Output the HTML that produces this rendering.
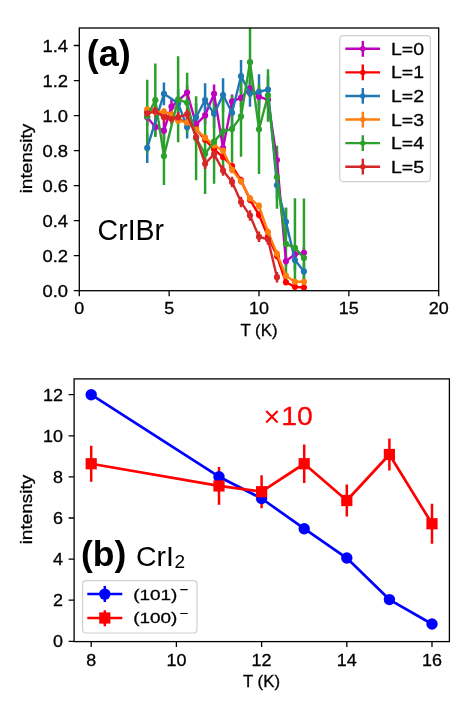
<!DOCTYPE html><html><head><meta charset="utf-8"><style>html,body{margin:0;padding:0;background:#fff;}svg{display:block;will-change:transform;}text{font-family:"Liberation Sans",sans-serif;stroke:#000;stroke-width:0.3px;}text.nb{stroke:none;}</style></head><body>
<svg width="469" height="720" viewBox="0 0 469 720">
<rect width="469" height="720" fill="#fff"/>
<defs><clipPath id="ca"><rect x="79.3" y="28" width="359.4" height="262.7"/></clipPath>
<clipPath id="cb"><rect x="74.1" y="378.9" width="375.3" height="262.7"/></clipPath></defs>
<g clip-path="url(#ca)">
<path d="M147.23 108.56V126.07M155.31 118.19V135.71M163.94 121.87V139.38M171.49 97.88V115.39M187.12 85.62V99.63M196.1 115.57V133.08M205.09 106.63V124.15M214.07 84.39V103.31M223.06 139.21V156.72M232.04 94.38V108.39M241.03 89.12V106.63M250.01 79.49V97M259 87.9V105.41M267.99 91.05V108.56M276.97 151.29V168.81M285.95 256.02V266.53M294.94 249.02V259.53M303.93 247.62V258.13" stroke="#bf00bf" stroke-width="2.5" fill="none"/>
<path d="M147.23 108.56V115.57M155.31 106.81V113.82M163.94 112.06V119.07M171.49 113.82V120.82M178.13 115.57V122.57M187.12 119.07V126.07M196.1 125.37V132.38M205.09 136.23V143.24M214.07 145.86V152.87M223.06 153.57V160.58M232.04 162.5V169.51M241.03 176.86V183.87M250.01 196.13V203.13M259 211.36V218.37M267.99 233.08V240.09M276.97 252.52V259.53M285.95 280.54V284.04M294.94 285.1V288.6M303.93 285.8V289.3" stroke="#ff0000" stroke-width="2.5" fill="none"/>
<path d="M147.23 132.9V163.03M163.94 82.47V105.23M178.13 89.3V117.32M187.12 115.74V138.51M196.1 103.31V131.33M205.09 83.34V116.62M214.07 99.8V127.83M223.06 78.26V111.89M232.04 98.75V126.78M241.03 60.05V92.27M250.01 79.84V106.81M259 74.24V109.26M267.99 75.64V103.66M276.97 171.26V199.28M285.95 207.86V235.88M294.94 249.54V270.56M303.93 262.68V280.19" stroke="#1f77b4" stroke-width="2.5" fill="none"/>
<path d="M147.23 105.76V112.76M155.31 108.56V115.57M163.94 108.21V115.22M171.49 110.84V117.84M178.13 117.14V124.15M187.12 118.89V125.9M196.1 126.07V133.08M205.09 134.13V141.14M214.07 141.84V148.84M223.06 147.09V154.1M232.04 166.36V173.36M241.03 177.74V184.74M250.01 194.9V201.91M259 202.43V209.44M267.99 228.53V235.53M276.97 250.24V257.25M285.95 272.31V279.32M294.94 278.27V285.27M303.93 278.27V285.27" stroke="#ff7f0e" stroke-width="2.5" fill="none"/>
<path d="M147.23 79.66V153.22M155.31 63.38V136.93M163.94 127.13V184.92M178.13 56.37V142.19M187.12 72.83V132.73M196.1 96.3V180.37M205.09 113.47V194.03M214.07 99.63V183.69M223.06 92.8V169.86M232.04 95.6V162.15M241.03 76.16V156.72M250.01 27.12V97.18M259 84.39V174.06M267.99 69.16V121.7M276.97 145.69V208.74M285.95 207.86V280.02M294.94 198.23V297.36M303.93 198.4V317.5" stroke="#2ca02c" stroke-width="2.5" fill="none"/>
<path d="M147.23 108.21V118.72M155.31 106.11V116.62M163.94 112.06V122.57M171.49 113.82V124.32M178.13 112.06V122.57M187.12 108.91V119.42M196.1 131.85V142.36M205.09 158.47V168.98M214.07 148.84V159.35M223.06 165.3V175.81M232.04 176.69V187.2M241.03 196.83V207.34M250.01 210.31V220.82M259 231.5V242.01M267.99 234.13V244.64M276.97 271.96V282.47" stroke="#d62728" stroke-width="2.5" fill="none"/>
<polyline points="147.23,117.32 155.31,126.95 163.94,130.63 171.49,106.63 187.12,92.62 196.1,124.32 205.09,115.39 214.07,93.85 223.06,147.97 232.04,101.38 241.03,97.88 250.01,88.25 259,96.65 267.99,99.8 276.97,160.05 285.95,261.28 294.94,254.27 303.93,252.87" stroke="#bf00bf" stroke-width="2.4" fill="none" stroke-linejoin="round" stroke-linecap="butt"/>
<circle cx="147.23" cy="117.32" r="3.1" fill="#bf00bf"/>
<circle cx="155.31" cy="126.95" r="3.1" fill="#bf00bf"/>
<circle cx="163.94" cy="130.63" r="3.1" fill="#bf00bf"/>
<circle cx="171.49" cy="106.63" r="3.1" fill="#bf00bf"/>
<circle cx="187.12" cy="92.62" r="3.1" fill="#bf00bf"/>
<circle cx="196.1" cy="124.32" r="3.1" fill="#bf00bf"/>
<circle cx="205.09" cy="115.39" r="3.1" fill="#bf00bf"/>
<circle cx="214.07" cy="93.85" r="3.1" fill="#bf00bf"/>
<circle cx="223.06" cy="147.97" r="3.1" fill="#bf00bf"/>
<circle cx="232.04" cy="101.38" r="3.1" fill="#bf00bf"/>
<circle cx="241.03" cy="97.88" r="3.1" fill="#bf00bf"/>
<circle cx="250.01" cy="88.25" r="3.1" fill="#bf00bf"/>
<circle cx="259" cy="96.65" r="3.1" fill="#bf00bf"/>
<circle cx="267.99" cy="99.8" r="3.1" fill="#bf00bf"/>
<circle cx="276.97" cy="160.05" r="3.1" fill="#bf00bf"/>
<circle cx="285.95" cy="261.28" r="3.1" fill="#bf00bf"/>
<circle cx="294.94" cy="254.27" r="3.1" fill="#bf00bf"/>
<circle cx="303.93" cy="252.87" r="3.1" fill="#bf00bf"/>
<polyline points="147.23,112.06 155.31,110.31 163.94,115.57 171.49,117.32 178.13,119.07 187.12,122.57 196.1,128.88 205.09,139.74 214.07,149.37 223.06,157.07 232.04,166.01 241.03,180.37 250.01,199.63 259,214.87 267.99,236.58 276.97,256.02 285.95,282.29 294.94,286.85 303.93,287.55" stroke="#ff0000" stroke-width="2.4" fill="none" stroke-linejoin="round" stroke-linecap="butt"/>
<circle cx="147.23" cy="112.06" r="3.1" fill="#ff0000"/>
<circle cx="155.31" cy="110.31" r="3.1" fill="#ff0000"/>
<circle cx="163.94" cy="115.57" r="3.1" fill="#ff0000"/>
<circle cx="171.49" cy="117.32" r="3.1" fill="#ff0000"/>
<circle cx="178.13" cy="119.07" r="3.1" fill="#ff0000"/>
<circle cx="187.12" cy="122.57" r="3.1" fill="#ff0000"/>
<circle cx="196.1" cy="128.88" r="3.1" fill="#ff0000"/>
<circle cx="205.09" cy="139.74" r="3.1" fill="#ff0000"/>
<circle cx="214.07" cy="149.37" r="3.1" fill="#ff0000"/>
<circle cx="223.06" cy="157.07" r="3.1" fill="#ff0000"/>
<circle cx="232.04" cy="166.01" r="3.1" fill="#ff0000"/>
<circle cx="241.03" cy="180.37" r="3.1" fill="#ff0000"/>
<circle cx="250.01" cy="199.63" r="3.1" fill="#ff0000"/>
<circle cx="259" cy="214.87" r="3.1" fill="#ff0000"/>
<circle cx="267.99" cy="236.58" r="3.1" fill="#ff0000"/>
<circle cx="276.97" cy="256.02" r="3.1" fill="#ff0000"/>
<circle cx="285.95" cy="282.29" r="3.1" fill="#ff0000"/>
<circle cx="294.94" cy="286.85" r="3.1" fill="#ff0000"/>
<circle cx="303.93" cy="287.55" r="3.1" fill="#ff0000"/>
<polyline points="147.23,147.97 163.94,93.85 178.13,103.31 187.12,127.13 196.1,117.32 205.09,99.98 214.07,113.82 223.06,95.08 232.04,112.76 241.03,76.16 250.01,93.32 259,91.75 267.99,89.65 276.97,185.27 285.95,221.87 294.94,260.05 303.93,271.44" stroke="#1f77b4" stroke-width="2.4" fill="none" stroke-linejoin="round" stroke-linecap="butt"/>
<circle cx="147.23" cy="147.97" r="3.1" fill="#1f77b4"/>
<circle cx="163.94" cy="93.85" r="3.1" fill="#1f77b4"/>
<circle cx="178.13" cy="103.31" r="3.1" fill="#1f77b4"/>
<circle cx="187.12" cy="127.13" r="3.1" fill="#1f77b4"/>
<circle cx="196.1" cy="117.32" r="3.1" fill="#1f77b4"/>
<circle cx="205.09" cy="99.98" r="3.1" fill="#1f77b4"/>
<circle cx="214.07" cy="113.82" r="3.1" fill="#1f77b4"/>
<circle cx="223.06" cy="95.08" r="3.1" fill="#1f77b4"/>
<circle cx="232.04" cy="112.76" r="3.1" fill="#1f77b4"/>
<circle cx="241.03" cy="76.16" r="3.1" fill="#1f77b4"/>
<circle cx="250.01" cy="93.32" r="3.1" fill="#1f77b4"/>
<circle cx="259" cy="91.75" r="3.1" fill="#1f77b4"/>
<circle cx="267.99" cy="89.65" r="3.1" fill="#1f77b4"/>
<circle cx="276.97" cy="185.27" r="3.1" fill="#1f77b4"/>
<circle cx="285.95" cy="221.87" r="3.1" fill="#1f77b4"/>
<circle cx="294.94" cy="260.05" r="3.1" fill="#1f77b4"/>
<circle cx="303.93" cy="271.44" r="3.1" fill="#1f77b4"/>
<polyline points="147.23,109.26 155.31,112.06 163.94,111.71 171.49,114.34 178.13,120.65 187.12,122.4 196.1,129.58 205.09,137.63 214.07,145.34 223.06,150.59 232.04,169.86 241.03,181.24 250.01,198.4 259,205.94 267.99,232.03 276.97,253.75 285.95,275.81 294.94,281.77 303.93,281.77" stroke="#ff7f0e" stroke-width="2.4" fill="none" stroke-linejoin="round" stroke-linecap="butt"/>
<circle cx="147.23" cy="109.26" r="3.1" fill="#ff7f0e"/>
<circle cx="155.31" cy="112.06" r="3.1" fill="#ff7f0e"/>
<circle cx="163.94" cy="111.71" r="3.1" fill="#ff7f0e"/>
<circle cx="171.49" cy="114.34" r="3.1" fill="#ff7f0e"/>
<circle cx="178.13" cy="120.65" r="3.1" fill="#ff7f0e"/>
<circle cx="187.12" cy="122.4" r="3.1" fill="#ff7f0e"/>
<circle cx="196.1" cy="129.58" r="3.1" fill="#ff7f0e"/>
<circle cx="205.09" cy="137.63" r="3.1" fill="#ff7f0e"/>
<circle cx="214.07" cy="145.34" r="3.1" fill="#ff7f0e"/>
<circle cx="223.06" cy="150.59" r="3.1" fill="#ff7f0e"/>
<circle cx="232.04" cy="169.86" r="3.1" fill="#ff7f0e"/>
<circle cx="241.03" cy="181.24" r="3.1" fill="#ff7f0e"/>
<circle cx="250.01" cy="198.4" r="3.1" fill="#ff7f0e"/>
<circle cx="259" cy="205.94" r="3.1" fill="#ff7f0e"/>
<circle cx="267.99" cy="232.03" r="3.1" fill="#ff7f0e"/>
<circle cx="276.97" cy="253.75" r="3.1" fill="#ff7f0e"/>
<circle cx="285.95" cy="275.81" r="3.1" fill="#ff7f0e"/>
<circle cx="294.94" cy="281.77" r="3.1" fill="#ff7f0e"/>
<circle cx="303.93" cy="281.77" r="3.1" fill="#ff7f0e"/>
<polyline points="147.23,116.44 155.31,100.15 163.94,156.02 178.13,99.28 187.12,102.78 196.1,138.33 205.09,153.75 214.07,141.66 223.06,131.33 232.04,128.88 241.03,116.44 250.01,62.15 259,129.23 267.99,95.43 276.97,177.21 285.95,243.94 294.94,247.79 303.93,257.95" stroke="#2ca02c" stroke-width="2.4" fill="none" stroke-linejoin="round" stroke-linecap="butt"/>
<circle cx="147.23" cy="116.44" r="3.1" fill="#2ca02c"/>
<circle cx="155.31" cy="100.15" r="3.1" fill="#2ca02c"/>
<circle cx="163.94" cy="156.02" r="3.1" fill="#2ca02c"/>
<circle cx="178.13" cy="99.28" r="3.1" fill="#2ca02c"/>
<circle cx="187.12" cy="102.78" r="3.1" fill="#2ca02c"/>
<circle cx="196.1" cy="138.33" r="3.1" fill="#2ca02c"/>
<circle cx="205.09" cy="153.75" r="3.1" fill="#2ca02c"/>
<circle cx="214.07" cy="141.66" r="3.1" fill="#2ca02c"/>
<circle cx="223.06" cy="131.33" r="3.1" fill="#2ca02c"/>
<circle cx="232.04" cy="128.88" r="3.1" fill="#2ca02c"/>
<circle cx="241.03" cy="116.44" r="3.1" fill="#2ca02c"/>
<circle cx="250.01" cy="62.15" r="3.1" fill="#2ca02c"/>
<circle cx="259" cy="129.23" r="3.1" fill="#2ca02c"/>
<circle cx="267.99" cy="95.43" r="3.1" fill="#2ca02c"/>
<circle cx="276.97" cy="177.21" r="3.1" fill="#2ca02c"/>
<circle cx="285.95" cy="243.94" r="3.1" fill="#2ca02c"/>
<circle cx="294.94" cy="247.79" r="3.1" fill="#2ca02c"/>
<circle cx="303.93" cy="257.95" r="3.1" fill="#2ca02c"/>
<polyline points="147.23,113.47 155.31,111.36 163.94,117.32 171.49,119.07 178.13,117.32 187.12,114.17 196.1,137.11 205.09,163.73 214.07,154.1 223.06,170.56 232.04,181.94 241.03,202.08 250.01,215.57 259,236.76 267.99,239.39 276.97,277.21" stroke="#d62728" stroke-width="2.4" fill="none" stroke-linejoin="round" stroke-linecap="butt"/>
<circle cx="147.23" cy="113.47" r="3.1" fill="#d62728"/>
<circle cx="155.31" cy="111.36" r="3.1" fill="#d62728"/>
<circle cx="163.94" cy="117.32" r="3.1" fill="#d62728"/>
<circle cx="171.49" cy="119.07" r="3.1" fill="#d62728"/>
<circle cx="178.13" cy="117.32" r="3.1" fill="#d62728"/>
<circle cx="187.12" cy="114.17" r="3.1" fill="#d62728"/>
<circle cx="196.1" cy="137.11" r="3.1" fill="#d62728"/>
<circle cx="205.09" cy="163.73" r="3.1" fill="#d62728"/>
<circle cx="214.07" cy="154.1" r="3.1" fill="#d62728"/>
<circle cx="223.06" cy="170.56" r="3.1" fill="#d62728"/>
<circle cx="232.04" cy="181.94" r="3.1" fill="#d62728"/>
<circle cx="241.03" cy="202.08" r="3.1" fill="#d62728"/>
<circle cx="250.01" cy="215.57" r="3.1" fill="#d62728"/>
<circle cx="259" cy="236.76" r="3.1" fill="#d62728"/>
<circle cx="267.99" cy="239.39" r="3.1" fill="#d62728"/>
<circle cx="276.97" cy="277.21" r="3.1" fill="#d62728"/>
</g>
<rect x="79.3" y="28" width="359.4" height="262.7" fill="none" stroke="#000" stroke-width="1.3"/>
<path d="M79.3 290.7v5.5M169.15 290.7v5.5M259 290.7v5.5M348.85 290.7v5.5M438.7 290.7v5.5M79.3 290.7h-5.5M79.3 255.67h-5.5M79.3 220.65h-5.5M79.3 185.62h-5.5M79.3 150.59h-5.5M79.3 115.57h-5.5M79.3 80.54h-5.5M79.3 45.51h-5.5" stroke="#000" stroke-width="1.3" fill="none"/>
<text x="79.3" y="314.3" font-size="16.6" text-anchor="middle" textLength="9.97" lengthAdjust="spacingAndGlyphs">0</text>
<text x="169.15" y="314.3" font-size="16.6" text-anchor="middle" textLength="9.97" lengthAdjust="spacingAndGlyphs">5</text>
<text x="259" y="314.3" font-size="16.6" text-anchor="middle" textLength="19.94" lengthAdjust="spacingAndGlyphs">10</text>
<text x="348.85" y="314.3" font-size="16.6" text-anchor="middle" textLength="19.94" lengthAdjust="spacingAndGlyphs">15</text>
<text x="438.7" y="314.3" font-size="16.6" text-anchor="middle" textLength="19.94" lengthAdjust="spacingAndGlyphs">20</text>
<text x="68" y="296.8" font-size="16.6" text-anchor="end" textLength="25.6" lengthAdjust="spacingAndGlyphs">0.0</text>
<text x="68" y="261.77" font-size="16.6" text-anchor="end" textLength="25.6" lengthAdjust="spacingAndGlyphs">0.2</text>
<text x="68" y="226.75" font-size="16.6" text-anchor="end" textLength="25.6" lengthAdjust="spacingAndGlyphs">0.4</text>
<text x="68" y="191.72" font-size="16.6" text-anchor="end" textLength="25.6" lengthAdjust="spacingAndGlyphs">0.6</text>
<text x="68" y="156.69" font-size="16.6" text-anchor="end" textLength="25.6" lengthAdjust="spacingAndGlyphs">0.8</text>
<text x="68" y="121.67" font-size="16.6" text-anchor="end" textLength="25.6" lengthAdjust="spacingAndGlyphs">1.0</text>
<text x="68" y="86.64" font-size="16.6" text-anchor="end" textLength="25.6" lengthAdjust="spacingAndGlyphs">1.2</text>
<text x="68" y="51.61" font-size="16.6" text-anchor="end" textLength="25.6" lengthAdjust="spacingAndGlyphs">1.4</text>
<text x="259" y="335.8" font-size="16.6" text-anchor="middle" textLength="37" lengthAdjust="spacingAndGlyphs">T (K)</text>
<text transform="translate(32.3 158.6) rotate(-90)" font-size="16.6" text-anchor="middle" textLength="69.5" lengthAdjust="spacingAndGlyphs">intensity</text>
<text x="86.7" y="66" font-size="36" font-weight="bold" class="nb">(a)</text>
<text x="97.6" y="239.9" font-size="29" class="nb" textLength="66.5" lengthAdjust="spacingAndGlyphs">CrIBr</text>
<rect x="339.8" y="35.7" width="90.6" height="145.9" rx="3.5" fill="#fff" fill-opacity="0.8" stroke="#d0d0d0" stroke-width="1.2"/>
<path d="M345.3 48.8H380M362.8 40.9V56.7" stroke="#bf00bf" stroke-width="2.4" fill="none"/>
<circle cx="362.8" cy="48.8" r="2.7" fill="#bf00bf"/>
<text x="391" y="54.9" font-size="16.6" textLength="33" lengthAdjust="spacingAndGlyphs">L=0</text>
<path d="M345.3 72.38H380M362.8 64.48V80.28" stroke="#ff0000" stroke-width="2.4" fill="none"/>
<circle cx="362.8" cy="72.38" r="2.7" fill="#ff0000"/>
<text x="391" y="78.48" font-size="16.6" textLength="33" lengthAdjust="spacingAndGlyphs">L=1</text>
<path d="M345.3 95.96H380M362.8 88.06V103.86" stroke="#1f77b4" stroke-width="2.4" fill="none"/>
<circle cx="362.8" cy="95.96" r="2.7" fill="#1f77b4"/>
<text x="391" y="102.06" font-size="16.6" textLength="33" lengthAdjust="spacingAndGlyphs">L=2</text>
<path d="M345.3 119.54H380M362.8 111.64V127.44" stroke="#ff7f0e" stroke-width="2.4" fill="none"/>
<circle cx="362.8" cy="119.54" r="2.7" fill="#ff7f0e"/>
<text x="391" y="125.64" font-size="16.6" textLength="33" lengthAdjust="spacingAndGlyphs">L=3</text>
<path d="M345.3 143.12H380M362.8 135.22V151.02" stroke="#2ca02c" stroke-width="2.4" fill="none"/>
<circle cx="362.8" cy="143.12" r="2.7" fill="#2ca02c"/>
<text x="391" y="149.22" font-size="16.6" textLength="33" lengthAdjust="spacingAndGlyphs">L=4</text>
<path d="M345.3 166.7H380M362.8 158.8V174.6" stroke="#d62728" stroke-width="2.4" fill="none"/>
<circle cx="362.8" cy="166.7" r="2.7" fill="#d62728"/>
<text x="391" y="172.8" font-size="16.6" textLength="33" lengthAdjust="spacingAndGlyphs">L=5</text>
<g clip-path="url(#cb)">
<path d="M91.2 445.87V481.63M219 467.04V504.85M261.6 475.26V508.14M304.2 444.43V483.06M346.8 484.5V516.56M389.4 438.47V470.53M432 503.82V543.69" stroke="#ff0000" stroke-width="2.5" fill="none"/>
<polyline points="91.2,394.7 219,476.69 261.6,498.48 304.2,528.69 346.8,558.07 389.4,599.58 432,624.04" stroke="#0000ff" stroke-width="2.7" fill="none" stroke-linejoin="round"/>
<circle cx="91.2" cy="394.7" r="5.7" fill="#0000ff"/>
<circle cx="219" cy="476.69" r="5.7" fill="#0000ff"/>
<circle cx="261.6" cy="498.48" r="5.7" fill="#0000ff"/>
<circle cx="304.2" cy="528.69" r="5.7" fill="#0000ff"/>
<circle cx="346.8" cy="558.07" r="5.7" fill="#0000ff"/>
<circle cx="389.4" cy="599.58" r="5.7" fill="#0000ff"/>
<circle cx="432" cy="624.04" r="5.7" fill="#0000ff"/>
<polyline points="91.2,463.75 219,485.94 261.6,491.7 304.2,463.75 346.8,500.53 389.4,454.5 432,523.75" stroke="#ff0000" stroke-width="2.7" fill="none" stroke-linejoin="round"/>
<rect x="85.6" y="458.15" width="11.2" height="11.2" fill="#ff0000"/>
<rect x="213.4" y="480.34" width="11.2" height="11.2" fill="#ff0000"/>
<rect x="256" y="486.1" width="11.2" height="11.2" fill="#ff0000"/>
<rect x="298.6" y="458.15" width="11.2" height="11.2" fill="#ff0000"/>
<rect x="341.2" y="494.93" width="11.2" height="11.2" fill="#ff0000"/>
<rect x="383.8" y="448.9" width="11.2" height="11.2" fill="#ff0000"/>
<rect x="426.4" y="518.15" width="11.2" height="11.2" fill="#ff0000"/>
</g>
<rect x="74.1" y="378.9" width="375.3" height="262.7" fill="none" stroke="#000" stroke-width="1.3"/>
<path d="M91.2 641.6v5.5M176.4 641.6v5.5M261.6 641.6v5.5M346.8 641.6v5.5M432 641.6v5.5M74.1 641.3h-5.5M74.1 600.2h-5.5M74.1 559.1h-5.5M74.1 518h-5.5M74.1 476.9h-5.5M74.1 435.8h-5.5M74.1 394.7h-5.5" stroke="#000" stroke-width="1.3" fill="none"/>
<text x="91.2" y="665.6" font-size="16.6" text-anchor="middle" textLength="9.97" lengthAdjust="spacingAndGlyphs">8</text>
<text x="176.4" y="665.6" font-size="16.6" text-anchor="middle" textLength="19.94" lengthAdjust="spacingAndGlyphs">10</text>
<text x="261.6" y="665.6" font-size="16.6" text-anchor="middle" textLength="19.94" lengthAdjust="spacingAndGlyphs">12</text>
<text x="346.8" y="665.6" font-size="16.6" text-anchor="middle" textLength="19.94" lengthAdjust="spacingAndGlyphs">14</text>
<text x="432" y="665.6" font-size="16.6" text-anchor="middle" textLength="19.94" lengthAdjust="spacingAndGlyphs">16</text>
<text x="63" y="647.4" font-size="16.6" text-anchor="end" textLength="9.97" lengthAdjust="spacingAndGlyphs">0</text>
<text x="63" y="606.3" font-size="16.6" text-anchor="end" textLength="9.97" lengthAdjust="spacingAndGlyphs">2</text>
<text x="63" y="565.2" font-size="16.6" text-anchor="end" textLength="9.97" lengthAdjust="spacingAndGlyphs">4</text>
<text x="63" y="524.1" font-size="16.6" text-anchor="end" textLength="9.97" lengthAdjust="spacingAndGlyphs">6</text>
<text x="63" y="483" font-size="16.6" text-anchor="end" textLength="9.97" lengthAdjust="spacingAndGlyphs">8</text>
<text x="63" y="441.9" font-size="16.6" text-anchor="end" textLength="19.94" lengthAdjust="spacingAndGlyphs">10</text>
<text x="63" y="400.8" font-size="16.6" text-anchor="end" textLength="19.94" lengthAdjust="spacingAndGlyphs">12</text>
<text x="261.5" y="687.3" font-size="16.6" text-anchor="middle" textLength="37" lengthAdjust="spacingAndGlyphs">T (K)</text>
<text transform="translate(32.3 509.6) rotate(-90)" font-size="16.6" text-anchor="middle" textLength="69.5" lengthAdjust="spacingAndGlyphs">intensity</text>
<text x="81" y="565.5" font-size="35.5" font-weight="bold" class="nb">(b)</text>
<text x="136" y="566.2" font-size="28.5" class="nb">CrI<tspan font-size="19" dy="1.6" dx="0.6">2</tspan></text>
<path d="M266.1 411H277.7M0 0" stroke="none"/>
<path d="M266.2 411.1L277.6 422.4M277.6 411.1L266.2 422.4" stroke="#ff0000" stroke-width="2.1" fill="none"/>
<text x="281.3" y="424.5" font-size="25.5" fill="#ff0000" style="stroke:#ff0000" textLength="31.6" lengthAdjust="spacingAndGlyphs">10</text>
<rect x="82.6" y="580.6" width="114.4" height="52.4" rx="3.5" fill="#fff" fill-opacity="0.8" stroke="#d0d0d0" stroke-width="1.2"/>
<path d="M87.3 594.1H122.3M104.8 586.1V602.1" stroke="#0000ff" stroke-width="2.5" fill="none"/>
<circle cx="104.8" cy="594.1" r="5.7" fill="#0000ff"/>
<path d="M87.3 618H122.3M104.8 610.2V626.2" stroke="#ff0000" stroke-width="2.5" fill="none"/>
<rect x="99.2" y="612.4" width="11.2" height="11.2" fill="#ff0000"/>
<text x="133.2" y="599.5" font-size="15" textLength="44.2" lengthAdjust="spacingAndGlyphs">(101)</text>
<text x="133.2" y="623.4" font-size="15" textLength="44.2" lengthAdjust="spacingAndGlyphs">(100)</text>
<path d="M180.3 589.6H187.7M180.3 613.5H187.7" stroke="#000" stroke-width="1.1"/>
</svg></body></html>
